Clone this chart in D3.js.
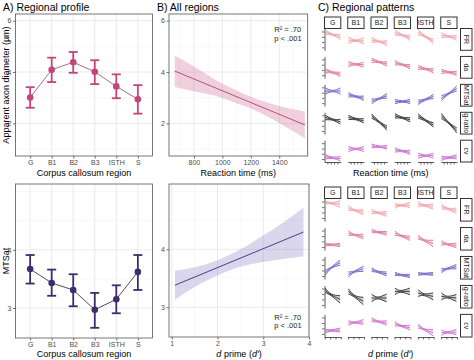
<!DOCTYPE html>
<html><head><meta charset="utf-8">
<script src="https://cdn.jsdelivr.net/npm/d3@7"></script>
<style>body{margin:0;background:#fff}svg{display:block}</style>
</head><body><svg id="c" width="474" height="360"></svg>
<script>
// ---------- DATA ----------
const regions = ["G","B1","B2","B3","ISTH","S"];
const diamMean = [3.01,4.09,4.38,4.01,3.44,2.94];
const diamLow  = [2.61,3.61,3.97,3.53,2.98,2.38];
const diamHigh = [3.41,4.56,4.78,4.46,3.91,3.49];
const mtMean = [3.67,3.43,3.31,2.97,3.15,3.62];
const mtLow  = [3.42,3.21,3.03,2.66,2.91,3.31];
const mtHigh = [3.91,3.66,3.58,3.26,3.39,3.91];

const diamTicks = [2,4,6], diamMinor = [1,3,5];
const mtTicks = [3,4], mtMinor = [3.5,4.5,5];

const rtTicks = [800,1000,1200,1400], rtMinor = [700,900,1100,1300,1500];
const rtBandX = [665,800,1000,1100,1200,1400,1500,1580];
const rtUpper = [4.64,4.22,3.55,3.28,3.04,2.68,2.55,2.47];
const rtLower = [3.42,3.25,2.99,2.78,2.58,2.02,1.69,1.41];
const rtFitX = [665,1580], rtFitY = [4.04,1.94];

const dpTicks = [1,2,3,4], dpMinor = [1.5,2.5,3.5];
const dpBandX = [1.07,1.5,2.0,2.5,3.0,3.5,3.88];
const dpUpper = [3.63,3.69,3.81,4.00,4.24,4.50,4.72];
const dpLower = [3.13,3.35,3.55,3.70,3.78,3.84,3.88];
const dpFitX = [1.07,3.88], dpFitY = [3.38,4.30];

const measures = ["FR","da","MTSat","g-ratio","cv"];
const measureColors = ["#f29ba3","#e0709c","#6e5ec6","#2e2e2e","#c968cc"];
const cellTicks = [0.1,0.37,0.63,0.9];
// per measure, per region: [fit left, fit right, half-width left, half-width middle, half-width right] (relative units)
const cellsRT = [
  [[0.86,0.62,0.12,0.035,0.12],[0.46,0.42,0.16,0.035,0.16],[0.47,0.31,0.13,0.035,0.13],[0.84,0.58,0.13,0.035,0.13],[0.86,0.40,0.13,0.035,0.13],[0.71,0.58,0.13,0.035,0.13]],
  [[0.33,0.15,0.11,0.035,0.11],[0.67,0.63,0.13,0.035,0.13],[0.86,0.67,0.11,0.035,0.11],[0.73,0.53,0.11,0.035,0.11],[0.50,0.33,0.11,0.035,0.11],[0.30,0.20,0.11,0.035,0.11]],
  [[0.71,0.71,0.16,0.035,0.16],[0.52,0.35,0.11,0.035,0.11],[0.19,0.47,0.12,0.035,0.12],[0.18,0.19,0.11,0.035,0.11],[0.14,0.44,0.11,0.035,0.11],[0.35,0.84,0.13,0.035,0.13]],
  [[0.79,0.57,0.12,0.035,0.12],[0.79,0.62,0.11,0.035,0.11],[0.86,0.25,0.11,0.035,0.11],[0.87,0.67,0.11,0.035,0.11],[0.86,0.41,0.11,0.035,0.11],[0.86,0.14,0.13,0.035,0.13]],
  [[0.21,0.12,0.11,0.035,0.11],[0.61,0.61,0.13,0.035,0.13],[0.76,0.69,0.095,0.035,0.095],[0.56,0.44,0.11,0.035,0.11],[0.27,0.27,0.13,0.035,0.13],[0.14,0.21,0.11,0.035,0.11]]
];
const cellsDP = [
  [[0.86,0.78,0.095,0.035,0.16],[0.58,0.38,0.12,0.035,0.12],[0.42,0.30,0.12,0.035,0.12],[0.70,0.73,0.13,0.035,0.13],[0.77,0.66,0.13,0.035,0.13],[0.66,0.45,0.13,0.035,0.13]],
  [[0.22,0.20,0.08,0.035,0.08],[0.77,0.61,0.12,0.035,0.12],[0.88,0.77,0.095,0.035,0.095],[0.77,0.53,0.11,0.035,0.11],[0.58,0.27,0.11,0.035,0.16],[0.30,0.17,0.11,0.035,0.11]],
  [[0.25,0.75,0.13,0.035,0.13],[0.17,0.45,0.13,0.035,0.13],[0.41,0.20,0.095,0.035,0.095],[0.20,0.10,0.08,0.035,0.08],[0.20,0.20,0.07,0.035,0.07],[0.36,0.55,0.11,0.035,0.11]],
  [[0.81,0.37,0.11,0.045,0.18],[0.76,0.29,0.13,0.045,0.18],[0.44,0.44,0.19,0.045,0.19],[0.76,0.76,0.16,0.045,0.16],[0.68,0.52,0.17,0.045,0.17],[0.52,0.44,0.17,0.045,0.17]],
  [[0.24,0.29,0.095,0.035,0.095],[0.63,0.68,0.12,0.035,0.12],[0.79,0.63,0.11,0.035,0.11],[0.59,0.40,0.11,0.035,0.11],[0.48,0.16,0.11,0.035,0.16],[0.16,0.19,0.13,0.035,0.13]]
];
const rtCellX = [665,1120,1580];
const dpCellX = [1.07,2.2,3.88];

// ---------- DRAWING ----------
const FONT = '"Liberation Sans", Arial, Helvetica, sans-serif';
const svg = d3.select("#c").attr("font-family", FONT);
svg.append("rect").attr("width",474).attr("height",360).attr("fill","#fff");

function txt(x,y,s,size,opts={}){
  const t = svg.append("text").attr("x",x).attr("y",y).attr("font-size",size)
    .attr("fill",opts.fill||"#000").attr("text-anchor",opts.anchor||"start").text(s);
  if(opts.rotate) t.attr("transform",`rotate(${opts.rotate},${x},${y})`);
  return t;
}
function styleAxis(sel, keepDomain){
  if(!keepDomain) sel.select(".domain").remove();
  else sel.select(".domain").attr("stroke","#333").attr("stroke-width",0.8);
  sel.selectAll(".tick line").attr("stroke","#333").attr("stroke-width",0.7);
  sel.selectAll(".tick text").attr("fill","#4d4d4d").attr("font-size",7).attr("font-family",FONT);
}
const fmt = d => String(d);
function bwPanel(xs, ys, o){
  const [x0,x1] = xs.range(); const [yb,yt] = ys.range();
  const g = svg.append("g");
  g.append("rect").attr("x",x0).attr("y",yt).attr("width",x1-x0).attr("height",yb-yt).attr("fill","#fff");
  (o.yMinor||[]).forEach(v=>g.append("line").attr("x1",x0).attr("x2",x1).attr("y1",ys(v)).attr("y2",ys(v)).attr("stroke","#f0f0f0").attr("stroke-width",0.5));
  (o.xMinor||[]).forEach(v=>g.append("line").attr("y1",yt).attr("y2",yb).attr("x1",xs(v)).attr("x2",xs(v)).attr("stroke","#f0f0f0").attr("stroke-width",0.5));
  (o.yMajor||[]).forEach(v=>g.append("line").attr("x1",x0).attr("x2",x1).attr("y1",ys(v)).attr("y2",ys(v)).attr("stroke","#e8e8e8").attr("stroke-width",0.9));
  (o.xMajor||[]).forEach(v=>g.append("line").attr("y1",yt).attr("y2",yb).attr("x1",xs(v)).attr("x2",xs(v)).attr("stroke","#e8e8e8").attr("stroke-width",0.9));
  const ax = svg.append("g").attr("transform",`translate(0,${yb})`)
    .call(d3.axisBottom(xs).tickValues(o.xTicks).tickFormat(fmt).tickSize(2.5).tickPadding(1.5).tickSizeOuter(0));
  styleAxis(ax);
  const ay = svg.append("g").attr("transform",`translate(${x0},0)`)
    .call(d3.axisLeft(ys).tickValues(o.yTicks).tickFormat(fmt).tickSize(2.5).tickPadding(1.5).tickSizeOuter(0));
  styleAxis(ay);
  return ()=>svg.append("rect").attr("x",x0).attr("y",yt).attr("width",x1-x0).attr("height",yb-yt)
      .attr("fill","none").attr("stroke","#555").attr("stroke-width",0.8);
}

// ---- Panel A ----
function profile(ys, mean, lo, hi, col, lineCol, yMajor, yMinor, yTicks){
  const xs = d3.scalePoint().domain(regions).range([15.5,152.5]).padding(0.68);
  const border = bwPanel(xs, ys, {xMajor:regions, yMajor, yMinor, xTicks:regions, yTicks});
  const pts = regions.map((r,i)=>({r, m:mean[i], lo:lo[i], hi:hi[i]}));
  svg.append("path").datum(pts).attr("fill","none").attr("stroke",lineCol).attr("stroke-width",0.9)
    .attr("d", d3.line().x(d=>xs(d.r)).y(d=>ys(d.m)));
  const eb = svg.append("g").attr("stroke",col).attr("stroke-width",1.8).attr("fill","none");
  pts.forEach(d=>{
    const x = xs(d.r);
    eb.append("line").attr("x1",x).attr("x2",x).attr("y1",ys(d.lo)).attr("y2",ys(d.hi));
    eb.append("line").attr("x1",x-4.5).attr("x2",x+4.5).attr("y1",ys(d.lo)).attr("y2",ys(d.lo));
    eb.append("line").attr("x1",x-4.5).attr("x2",x+4.5).attr("y1",ys(d.hi)).attr("y2",ys(d.hi));
  });
  svg.append("g").selectAll("circle").data(pts).join("circle")
    .attr("cx",d=>xs(d.r)).attr("cy",d=>ys(d.m)).attr("r",3.3).attr("fill",col);
  border();
}
const yDiam = d3.scaleLinear().domain([0.73,6.26]).range([156,14]);
const yMT = d3.scaleLinear().domain([2.485,5.13]).range([338,184]);
profile(yDiam, diamMean, diamLow, diamHigh, "#c2457b", "#a45a7c", diamTicks, diamMinor, diamTicks);
profile(yMT, mtMean, mtLow, mtHigh, "#3f2b70", "#3d3a4c", mtTicks, mtMinor, mtTicks);

txt(3,11,"A) Regional profile",10.5);
txt(84,175.5,"Corpus callosum region",9,{anchor:"middle"});
txt(84,357,"Corpus callosum region",9,{anchor:"middle"});
txt(8.5,85,"Apparent axon diameter (µm)",9,{anchor:"middle",rotate:-90});
txt(8.5,261,"MTSat",9,{anchor:"middle",rotate:-90});

// ---- Panel B ----
function regPanel(xs, ys, bx, up, lw, fx, fy, bandCol, lineCol, o, annY){
  const border = bwPanel(xs, ys, o);
  const band = bx.map((x,i)=>({x, u:up[i], l:lw[i]}));
  svg.append("path").datum(band).attr("fill",bandCol).attr("fill-opacity",0.32)
    .attr("d", d3.area().curve(d3.curveMonotoneX).x(d=>xs(d.x)).y0(d=>ys(d.l)).y1(d=>ys(d.u)));
  svg.append("path").datum(fx.map((x,i)=>[x,fy[i]])).attr("fill","none").attr("stroke",lineCol).attr("stroke-width",1)
    .attr("d", d3.line().x(d=>xs(d[0])).y(d=>ys(d[1])));
  txt(274.3,annY,"R² = .70",7.5,{fill:"#222"});
  txt(274.3,annY+8.7,"p < .001",7.5,{fill:"#222"});
  border();
}
const xRT = d3.scaleLinear().domain([625,1600]).range([169,307.7]);
const yDiamB = d3.scaleLinear().domain([0.73,6.26]).range([156,14]);
regPanel(xRT, yDiamB, rtBandX, rtUpper, rtLower, rtFitX, rtFitY, "#d56c98", "#b5527f",
  {xMajor:rtTicks, xMinor:rtMinor, yMajor:diamTicks, yMinor:diamMinor, xTicks:rtTicks, yTicks:diamTicks}, 32);
const xDP = d3.scaleLinear().domain([0.94,4.0]).range([169,309]);
const yMTB = d3.scaleLinear().domain([2.485,5.13]).range([337,184]);
regPanel(xDP, yMTB, dpBandX, dpUpper, dpLower, dpFitX, dpFitY, "#8c7fc0", "#4f3d88",
  {xMajor:dpTicks, xMinor:dpMinor, yMajor:mtTicks, yMinor:mtMinor, xTicks:dpTicks, yTicks:mtTicks}, 319.5);

txt(157,11,"B) All regions",10.5);
txt(238.3,175.5,"Reaction time (ms)",9,{anchor:"middle"});
const dpt = txt(239,357,"",9,{anchor:"middle"});
dpt.append("tspan").attr("font-style","italic").text("d");
dpt.append("tspan").text(" prime (");
dpt.append("tspan").attr("font-style","italic").text("d'");
dpt.append("tspan").text(")");

// ---- Panel C ----
function facetGrid(yTop, yBot, cells, xDomain, xTicks, cellX){
  const cols = d3.scaleBand().domain(regions).range([324.5,457]).paddingInner(0.3);
  const rows = d3.scaleBand().domain(measures).range([yTop,yBot]).paddingInner(0.22);
  const cw = cols.bandwidth(), rh = rows.bandwidth();
  regions.forEach(r=>{
    svg.append("rect").attr("x",cols(r)).attr("y",yTop-11.5).attr("width",cw).attr("height",11.5)
      .attr("fill","#fff").attr("stroke","#333").attr("stroke-width",1);
    txt(cols(r)+cw/2, yTop-3.3, r, 7, {anchor:"middle", fill:"#1a1a1a"});
  });
  measures.forEach((m,mi)=>{
    const ry = rows(m);
    const ys = d3.scaleLinear().domain([-0.05,1.05]).range([ry+rh, ry]);
    svg.append("rect").attr("x",460.5).attr("y",ry).attr("width",11.5).attr("height",rh)
      .attr("fill","#fff").attr("stroke","#333").attr("stroke-width",1);
    txt(463.7, ry+rh/2, m, 7, {anchor:"middle", fill:"#1a1a1a", rotate:90});
    const ay = svg.append("g").attr("transform",`translate(${cols(regions[0])},0)`)
      .call(d3.axisLeft(ys).tickValues(cellTicks).tickSize(2.5).tickSizeOuter(0).tickFormat(""));
    styleAxis(ay, true);
    regions.forEach((r,ri)=>{
      const xs = d3.scaleLinear().domain(xDomain).range([cols(r), cols(r)+cw]);
      const c = cells[mi][ri];
      const fit = [c[0], (c[0]+c[1])/2, c[1]];
      const hw = [c[2], c[3], c[4]];
      const pts = cellX.map((x,k)=>({x, f:fit[k], u:fit[k]+hw[k], l:fit[k]-hw[k]}));
      const col = measureColors[mi];
      svg.append("path").datum(pts).attr("fill",col).attr("fill-opacity",0.22)
        .attr("d", d3.area().curve(d3.curveNatural).x(d=>xs(d.x)).y0(d=>ys(d.l)).y1(d=>ys(d.u)));
      ["u","l","f"].forEach(k=>{
        svg.append("path").datum(pts).attr("fill","none").attr("stroke",col).attr("stroke-width",0.9)
          .attr("d", d3.line().curve(d3.curveNatural).x(d=>xs(d.x)).y(d=>ys(d[k])));
      });
      if(mi===measures.length-1){
        const ax = svg.append("g").attr("transform",`translate(0,${ry+rh})`)
          .call(d3.axisBottom(xs).tickValues(xTicks).tickSize(2.5).tickSizeOuter(0).tickFormat(""));
        styleAxis(ax, true);
      }
    });
  });
}
facetGrid(28.5, 162, cellsRT, [625,1600], rtTicks, rtCellX);
facetGrid(198.5, 337, cellsDP, [0.94,4.0], dpTicks, dpCellX);

txt(318,11,"C) Regional patterns",10.5);
txt(390.7,175.5,"Reaction time (ms)",9,{anchor:"middle"});
const dpt2 = txt(390.7,357,"",9,{anchor:"middle"});
dpt2.append("tspan").attr("font-style","italic").text("d");
dpt2.append("tspan").text(" prime (");
dpt2.append("tspan").attr("font-style","italic").text("d'");
dpt2.append("tspan").text(")");
</script></body></html>
